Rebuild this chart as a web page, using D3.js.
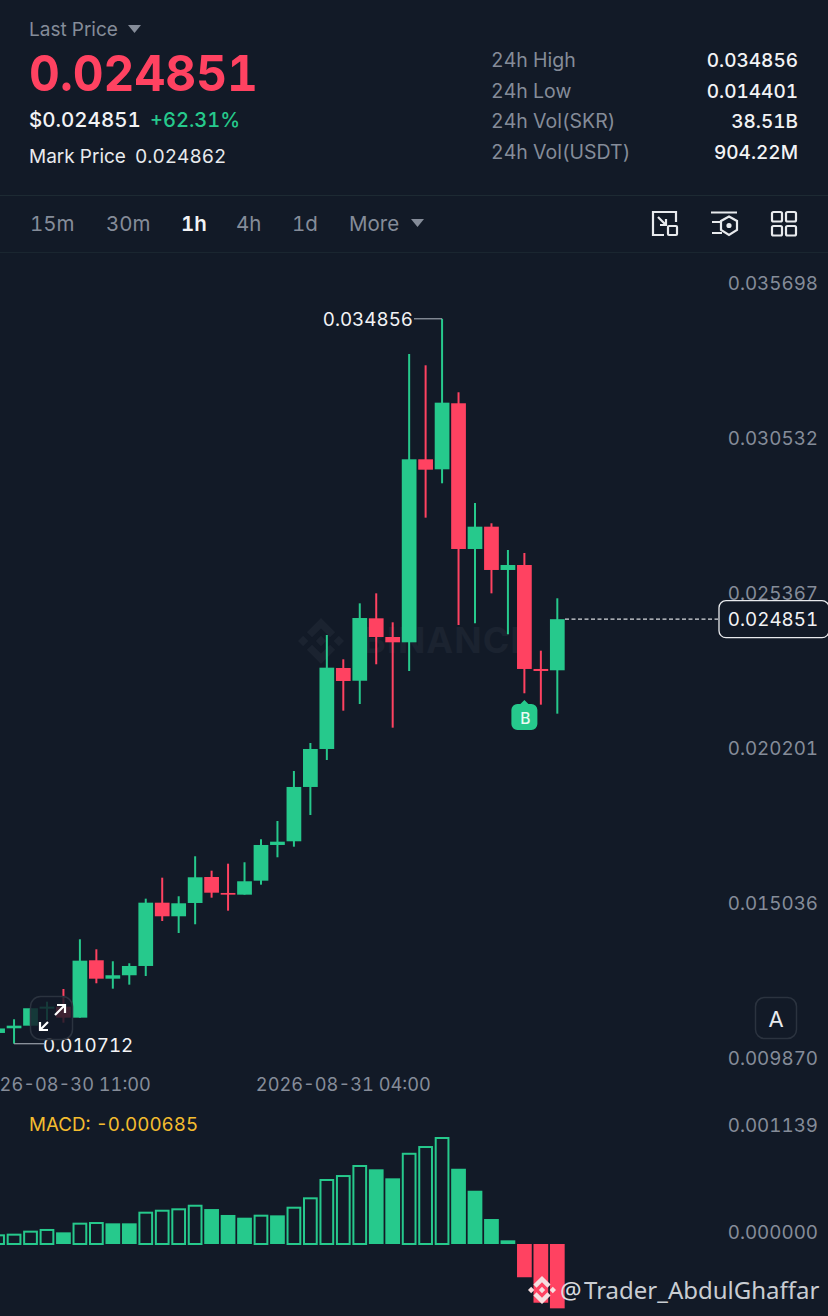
<!DOCTYPE html>
<html>
<head>
<meta charset="utf-8">
<script src="https://cdnjs.cloudflare.com/ajax/libs/d3/7.8.5/d3.min.js"></script>
<style>
    html, body { margin: 0; padding: 0; background: #121a27; }
    svg { display: block; font-family: Inter, "Noto Sans", sans-serif; font-variant-numeric: tabular-nums; font-feature-settings: "tnum" 1; }
</style>
</head>
<body>
<svg id="chart"></svg>
<script>
// hourly candles
var times = [
    "2026-08-30 07:00", "2026-08-30 08:00", "2026-08-30 09:00", "2026-08-30 10:00", "2026-08-30 11:00",
    "2026-08-30 12:00", "2026-08-30 13:00", "2026-08-30 14:00", "2026-08-30 15:00", "2026-08-30 16:00",
    "2026-08-30 17:00", "2026-08-30 18:00", "2026-08-30 19:00", "2026-08-30 20:00", "2026-08-30 21:00",
    "2026-08-30 22:00", "2026-08-30 23:00", "2026-08-31 00:00", "2026-08-31 01:00", "2026-08-31 02:00",
    "2026-08-31 03:00", "2026-08-31 04:00", "2026-08-31 05:00", "2026-08-31 06:00", "2026-08-31 07:00",
    "2026-08-31 08:00", "2026-08-31 09:00", "2026-08-31 10:00", "2026-08-31 11:00", "2026-08-31 12:00",
    "2026-08-31 13:00", "2026-08-31 14:00", "2026-08-31 15:00", "2026-08-31 16:00", "2026-08-31 17:00"
];
var opens = [
    0.011070, 0.011226, 0.011313, 0.011879, 0.011946, 0.011580, 0.013491, 0.012878, 0.012992, 0.013301,
    0.015409, 0.014956, 0.015399, 0.016265, 0.015733, 0.015676, 0.016142, 0.017331, 0.017454, 0.019263,
    0.020528, 0.023226, 0.022801, 0.024880, 0.024258, 0.024081, 0.030176, 0.029843, 0.032042, 0.027189,
    0.027932, 0.026490, 0.026656, 0.023193, 0.023149
];
var highs = [
    0.011220, 0.011526, 0.011893, 0.012112, 0.012535, 0.014191, 0.013857, 0.013458, 0.013391, 0.015543,
    0.016242, 0.015623, 0.016955, 0.016475, 0.016708, 0.016755, 0.017521, 0.018130, 0.019795, 0.020728,
    0.024325, 0.023515, 0.025379, 0.025712, 0.024747, 0.033683, 0.033307, 0.034856, 0.032408, 0.028721,
    0.028045, 0.027156, 0.027056, 0.023802, 0.025547
];
var lows = [
    0.011070, 0.010712, 0.011313, 0.011503, 0.011413, 0.011580, 0.012725, 0.012545, 0.012679, 0.012968,
    0.014800, 0.014400, 0.014690, 0.015576, 0.015143, 0.015676, 0.016009, 0.016921, 0.017274, 0.018330,
    0.020162, 0.021804, 0.022026, 0.023349, 0.021238, 0.023126, 0.028232, 0.029377, 0.024658, 0.024715,
    0.025712, 0.024348, 0.022383, 0.022004, 0.021704
];
var closes = [
    0.011220, 0.011313, 0.011893, 0.011946, 0.011580, 0.013478, 0.012878, 0.012992, 0.013301, 0.015409,
    0.014956, 0.015389, 0.016255, 0.015742, 0.015676, 0.016122, 0.017331, 0.017441, 0.019263, 0.020528,
    0.023236, 0.022793, 0.024890, 0.024258, 0.024081, 0.030176, 0.029830, 0.032062, 0.027189, 0.027932,
    0.026490, 0.026656, 0.023193, 0.023126, 0.024851
];
var macd = [
    0.000103, 0.000110, 0.000142, 0.000160, 0.000124, 0.000227, 0.000234, 0.000220, 0.000220, 0.000344,
    0.000365, 0.000380, 0.000418, 0.000372, 0.000309, 0.000280, 0.000312, 0.000305, 0.000397, 0.000497,
    0.000692, 0.000734, 0.000841, 0.000795, 0.000699, 0.000971, 0.001043, 0.001139, 0.000801, 0.000567,
    0.000266, 0.000039, -0.000354, -0.000625, -0.000685
];
var priceTicks = [0.035698, 0.030532, 0.025367, 0.020201, 0.015036, 0.009870];
var macdTicks = [0.001139, 0];
var timeTicks = ["2026-08-30 11:00", "2026-08-31 04:00"];
var statLabels = ["24h High", "24h Low", "24h Vol(SKR)", "24h Vol(USDT)"];
var statValues = ["0.034856", "0.014401", "38.51B", "904.22M"];
var tabs = ["15m", "30m", "1h", "4h", "1d", "More"];

var lastPrice = 0.024851;
var highPrice = 0.034856;
var lowPrice = 0.010712;

var dimensions = { width: 828, height: 1316 };
var green = "#26c98c";
var red = "#ff4261";
var grey = "#858c99";
var bg = "#121a27";

var svg = d3.select("#chart")
    .attr("width", dimensions.width)
    .attr("height", dimensions.height)
    .style("background-color", bg);

// ---- header ----
function label(x, y, txt, size, color, weight, anchor) {
    return svg.append("text")
        .attr("x", x)
        .attr("y", y)
        .attr("font-size", size)
        .attr("fill", color)
        .attr("font-weight", weight || 400)
        .attr("text-anchor", anchor || "start")
        .text(txt);
}

// binance mark, same shape for the chart watermark and the footer
function logo(parent, cx, cy, r) {
    var g = parent.append("g").attr("transform", "translate(" + cx + "," + cy + ") scale(" + r + ")");
    var chevron = "M-0.388,-0.16L0,-0.548L0.389,-0.16L0.615,-0.385L0,-1L-0.615,-0.385Z";
    g.append("path").attr("d", chevron);
    g.append("path").attr("d", chevron).attr("transform", "scale(1,-1)");
    [-0.774, 0, 0.774].forEach(function(x) {
        g.append("path").attr("d", "M" + (x - 0.226) + ",0L" + x + ",-0.226L" + (x + 0.226) + ",0L" + x + ",0.226Z");
    });
}

label(29, 36, "Last Price", 19, grey);
svg.append("path").attr("d", "M128,25H141L134.5,33Z").attr("fill", grey);
label(29, 91, "0.024851", 50, red, 700).attr("textLength", 229).attr("lengthAdjust", "spacingAndGlyphs");
label(29, 127, "$0.024851", 20.5, "#f2f3f5", 500);
label(150, 127, "+62.31%", 20, green, 500);
label(29, 163, "Mark Price", 19, "#e8eaed");
label(135, 163, "0.024862", 19, "#e8eaed");

statLabels.forEach(function(d, i) {
    label(491, 67 + i * 30.7, d, 19.5, grey);
    label(798, 67 + i * 30.7, statValues[i], 19, "#f2f3f5", 500, "end");
});

svg.append("rect").attr("x", 0).attr("y", 195).attr("width", 828).attr("height", 1).attr("fill", "#1d2a33");
svg.append("rect").attr("x", 0).attr("y", 252).attr("width", 828).attr("height", 1).attr("fill", "#1a2630");

var tabX = [30, 106, 181, 236, 292, 349];
tabs.forEach(function(d, i) {
    var on = d == "1h";
    label(tabX[i], 231, d, 20.5, on ? "#f2f3f5" : grey, on ? 600 : 400);
});
svg.append("path").attr("d", "M411,219H424L417.5,227Z").attr("fill", grey);

// toolbar icons
var icons = svg.append("g").attr("fill", "none").attr("stroke", "#e8eaed").attr("stroke-width", 2.2);
icons.append("path").attr("d", "M664,235H653V212H676V222");
icons.append("rect").attr("x", 668).attr("y", 226).attr("width", 9).attr("height", 9).attr("rx", 1);
icons.append("path").attr("d", "M658,217L666,225M666,219V225H660");
icons.append("path").attr("d", "M711,212.500H737M712,222H722M712,233H722");
icons.append("path").attr("d", "M729,216.500L737,221V230L729,235L721,230V221Z");
icons.append("circle").attr("cx", 729).attr("cy", 225.500).attr("r", 1.500).attr("fill", "#e8eaed");
[772, 786].forEach(function(x) {
    [212, 226].forEach(function(y) {
        icons.append("rect").attr("x", x).attr("y", y).attr("width", 10).attr("height", 9.500).attr("rx", 1.500);
    });
});

// ---- scales ----
var xScale = d3.scaleBand()
    .domain(times)
    .range([-10.6, -10.6 + 16.46 * times.length])
    .paddingInner(0.105)
    .paddingOuter(0.05);

var yScale = d3.scaleLinear()
    .domain([priceTicks[0], priceTicks[priceTicks.length - 1]])
    .range([293.5, 1069]);

var macdScale = d3.scaleLinear()
    .domain([macdTicks[0], macdTicks[1]])
    .range([1137, 1244]);

function center(t) {
    return xScale(t) + xScale.bandwidth() / 2;
}

// ---- watermark ----
var mark = svg.append("g").attr("fill", "#1b2330");
logo(mark, 321, 641, 23);
mark.append("text").attr("x", 362).attr("y", 653).attr("font-size", 36).attr("font-weight", 700).attr("letter-spacing", 1).text("BINANCE");

// ---- candles ----
var candles = times.map(function(t, i) {
    return { time: t, open: opens[i], high: highs[i], low: lows[i], close: closes[i] };
});
function candleColor(d) {
    return d.close >= d.open ? green : red;
}

svg.append("g").selectAll("line")
    .data(candles)
    .enter()
    .append("line")
    .attr("x1", d => center(d.time))
    .attr("x2", d => center(d.time))
    .attr("y1", d => yScale(d.high))
    .attr("y2", d => yScale(d.low))
    .attr("stroke", candleColor)
    .attr("stroke-width", 2);

svg.append("g").selectAll("rect")
    .data(candles)
    .enter()
    .append("rect")
    .attr("x", d => xScale(d.time))
    .attr("y", d => yScale(Math.max(d.open, d.close)))
    .attr("width", xScale.bandwidth())
    .attr("height", d => Math.max(1.5, Math.abs(yScale(d.open) - yScale(d.close))))
    .attr("fill", candleColor);

// ---- price axis ----
var priceAxis = svg.append("g")
    .attr("transform", "translate(818,0)")
    .call(d3.axisLeft(yScale).tickValues(priceTicks).tickSize(0).tickFormat(d3.format(".6f")));
priceAxis.select(".domain").remove();
priceAxis.selectAll("text")
    .attr("x", 0)
    .attr("dy", "-4.2px")
    .attr("font-family", "Inter")
    .attr("font-size", 18.8)
    .attr("fill", grey);

// ---- high and low notes ----
var highTime = times[highs.indexOf(highPrice)];
var lowTime = times[lows.indexOf(lowPrice)];
svg.append("path")
    .attr("d", d3.line()([[center(highTime), yScale(highPrice)], [414, yScale(highPrice)]]))
    .attr("stroke", "#9aa1ab")
    .attr("stroke-width", 1.2);
label(413, yScale(highPrice) + 7, "0.034856", 18.8, "#f2f3f5", 400, "end");
svg.append("path")
    .attr("d", d3.line()([[center(lowTime), yScale(lowPrice)], [44, yScale(lowPrice)]]))
    .attr("stroke", "#9aa1ab")
    .attr("stroke-width", 1.2);
label(43, yScale(lowPrice) + 8, "0.010712", 18.8, "#f2f3f5");

// ---- last price line and box ----
svg.append("line")
    .attr("x1", 565)
    .attr("x2", 718)
    .attr("y1", yScale(lastPrice))
    .attr("y2", yScale(lastPrice))
    .attr("stroke", "#d7dade")
    .attr("stroke-width", 1.2)
    .attr("stroke-dasharray", "4,2.500");
svg.append("rect")
    .attr("x", 719)
    .attr("y", yScale(lastPrice) - 18.5)
    .attr("width", 110)
    .attr("height", 37)
    .attr("rx", 7)
    .attr("fill", bg)
    .attr("stroke", "#e8eaed")
    .attr("stroke-width", 1.3);
label(773, yScale(lastPrice) + 7, "0.024851", 18.8, "#f2f3f5", 400, "middle");

// ---- buy marker ----
var buyX = center(times[32]);
svg.append("path")
    .attr("d", "M" + (buyX - 13) + ",710a6,6 0 0 1 6,-6h3l4,-4l4,4h3a6,6 0 0 1 6,6v14a6,6 0 0 1 -6,6h-14a6,6 0 0 1 -6,-6z")
    .attr("fill", green);
label(buyX + 1, 724, "B", 15.5, "#e9fbf4", 500, "middle");

// ---- expand button ----
svg.append("rect")
    .attr("x", 30.5)
    .attr("y", 996.5)
    .attr("width", 42)
    .attr("height", 43)
    .attr("rx", 10)
    .attr("fill", bg)
    .attr("fill-opacity", 0.82)
    .attr("stroke", "#2b333f")
    .attr("stroke-width", 1.5);
svg.append("path")
    .attr("d", "M55,1015L64,1006M57,1005H65V1013M48,1022L40,1030M40,1022V1030H48")
    .attr("fill", "none")
    .attr("stroke", "#ffffff")
    .attr("stroke-width", 2.2);

// ---- auto button ----
svg.append("rect")
    .attr("x", 755.5)
    .attr("y", 997.5)
    .attr("width", 41)
    .attr("height", 41)
    .attr("rx", 9)
    .attr("fill", bg)
    .attr("stroke", "#2b333f")
    .attr("stroke-width", 1.5);
label(776, 1027, "A", 22, "#e8eaed", 400, "middle");

// ---- time axis ----
var timeAxis = svg.append("g")
    .attr("transform", "translate(0,1074)")
    .call(d3.axisBottom(xScale).tickValues(timeTicks).tickSize(0));
timeAxis.select(".domain").remove();
timeAxis.selectAll("text")
    .attr("y", 0)
    .attr("dy", "0.95em")
    .attr("font-family", "Inter")
    .attr("font-size", 18.2)
    .attr("fill", grey);

// ---- macd ----
label(29, 1131, "MACD: -0.000685", 18.8, "#f4bd2f");

var bars = macd.map(function(v, i) {
    return { time: times[i], value: v, hollow: v >= 0 && (i == 0 || v > macd[i - 1]) };
});

svg.append("g").selectAll("rect")
    .data(bars)
    .enter()
    .append("rect")
    .attr("x", d => xScale(d.time) + (d.hollow ? 1 : 0))
    .attr("y", d => macdScale(Math.max(d.value, 0)) + (d.hollow ? 1 : 0))
    .attr("width", d => xScale.bandwidth() - (d.hollow ? 2 : 0))
    .attr("height", d => Math.abs(macdScale(d.value) - macdScale(0)) - (d.hollow ? 1 : 0))
    .attr("fill", d => d.hollow ? "none" : (d.value >= 0 ? green : red))
    .attr("stroke", d => d.hollow ? green : "none")
    .attr("stroke-width", 2);

var macdAxis = svg.append("g")
    .attr("transform", "translate(818,0)")
    .call(d3.axisLeft(macdScale).tickValues(macdTicks).tickSize(0).tickFormat(d3.format(".6f")));
macdAxis.select(".domain").remove();
macdAxis.selectAll("text")
    .attr("x", 0)
    .attr("dy", "-6px")
    .attr("font-family", "Inter")
    .attr("font-size", 18.8)
    .attr("fill", grey);

// ---- bottom watermark ----
var foot = svg.append("g").attr("fill", "#f6dfe0");
logo(foot, 542, 1290, 14);
label(560, 1299, "@", 24, "#d9dcdf").attr("font-family", "Noto Sans");
label(584, 1299, "Trader_AbdulGhaffar", 24, "#c9cdd2").attr("font-family", "Noto Sans");
</script>
</body>
</html>
